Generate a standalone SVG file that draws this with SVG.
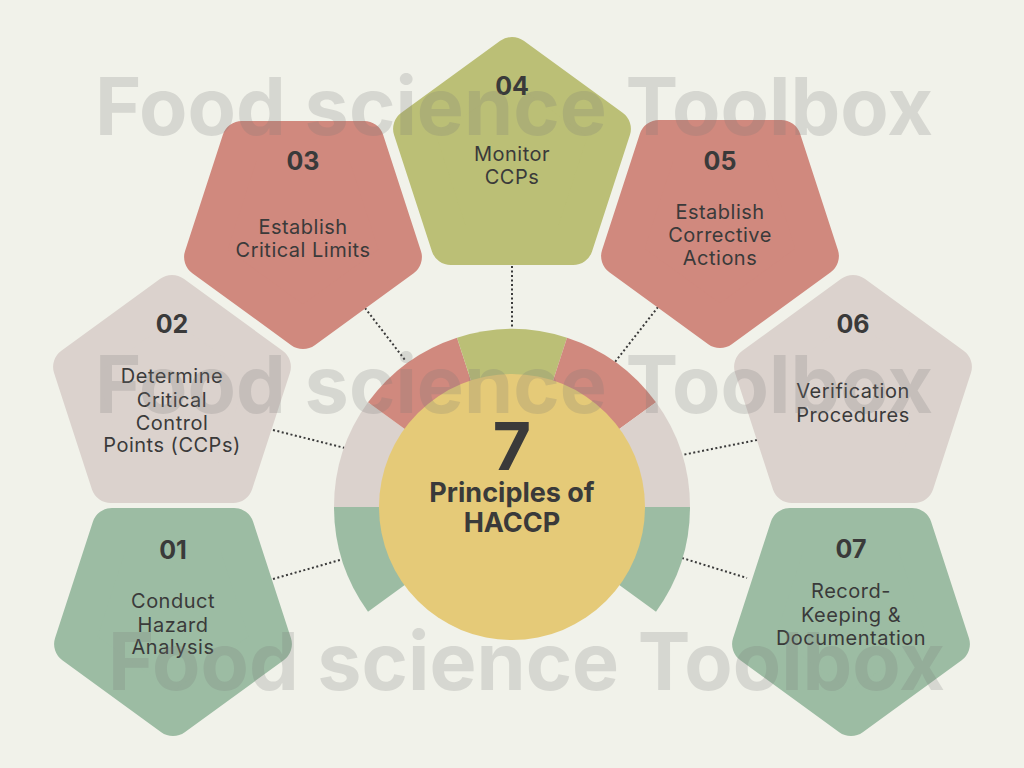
<svg xmlns="http://www.w3.org/2000/svg" xmlns:xlink="http://www.w3.org/1999/xlink" width="1024" height="768" viewBox="0 0 1024 768">
<style>
.bg{fill:#f1f2ea}
.pent{stroke-width:40;stroke-linejoin:round}
.green{fill:#9cbca3;stroke:#9cbca3}
.beige{fill:#dbd2cd;stroke:#dbd2cd}
.red{fill:#d0897e;stroke:#d0897e}
.olive{fill:#bbbf76;stroke:#bbbf76}
.sg{fill:#9cbca3}.sb{fill:#dbd2cd}.sr{fill:#d0897e}.so{fill:#bbbf76}
.num{font-family:Inter,'Liberation Sans',sans-serif;font-weight:700;font-size:25px;fill:#3a3a3a;text-anchor:middle}
.lbl{font-family:Inter,'Liberation Sans',sans-serif;font-size:20px;fill:#3a3a3a;text-anchor:middle;letter-spacing:0.5px}
.conn{stroke:#3a3a3a;stroke-width:2;stroke-dasharray:2 2.5;fill:none}
.wm{font-family:Inter,'Liberation Sans',sans-serif;font-weight:700;font-size:80px;fill:#777;opacity:0.21}
.title{font-family:Inter,'Liberation Sans',sans-serif;font-weight:700;fill:#3a3a3a;text-anchor:middle}
</style>
<defs>
<polygon id="pDown" points="0,104 98.9,32.1 61.1,-84.1 -61.1,-84.1 -98.9,32.1"/>
<polygon id="pUp" points="0,-104 98.9,-32.1 61.1,84.1 -61.1,84.1 -98.9,-32.1"/>
</defs>
<rect class="bg" x="0" y="0" width="1024" height="768"/>
<g id="connectors">
<line class="conn" x1="273" y1="579" x2="340" y2="560"/>
<line class="conn" x1="273" y1="430" x2="345" y2="448"/>
<line class="conn" x1="365" y1="308" x2="405" y2="360"/>
<line class="conn" x1="512" y1="266" x2="512" y2="328"/>
<line class="conn" x1="658" y1="307" x2="615" y2="362"/>
<line class="conn" x1="757" y1="440" x2="682" y2="455"/>
<line class="conn" x1="682" y1="558" x2="747" y2="578"/>
</g>
<g id="center">
<path class="sg" d="M512,507 L367.99,611.63 A178,178 0 0 1 334,507 Z"/>
<path class="sb" d="M512,507 L334,507 A178,178 0 0 1 367.99,402.37 Z"/>
<path class="sr" d="M512,507 L367.99,402.37 A178,178 0 0 1 457,337.7 Z"/>
<path class="so" d="M512,507 L457,337.7 A178,178 0 0 1 567,337.7 Z"/>
<path class="sr" d="M512,507 L567,337.7 A178,178 0 0 1 656,402.37 Z"/>
<path class="sb" d="M512,507 L656,402.37 A178,178 0 0 1 690,507 Z"/>
<path class="sg" d="M512,507 L690,507 A178,178 0 0 1 656,611.63 Z"/>
<circle cx="512" cy="507" r="133" fill="#e5ca78"/>
<text class="title" x="512" y="470" font-size="66">7</text>
<text class="title" x="512" y="502" font-size="27">Principles of</text>
<text class="title" x="512" y="532" font-size="27">HACCP</text>
</g>
<g id="node01" transform="translate(173,612)">
<use xlink:href="#pDown" class="pent green"/>
<text class="num" x="0" y="-53">01</text>
<text class="lbl" x="0" y="-4">Conduct</text>
<text class="lbl" x="0" y="20">Hazard</text>
<text class="lbl" x="0" y="42">Analysis</text>
</g>
<g id="node02" transform="translate(172,399)">
<use xlink:href="#pUp" class="pent beige"/>
<text class="num" x="0" y="-66">02</text>
<text class="lbl" x="0" y="-16">Determine</text>
<text class="lbl" x="0" y="8">Critical</text>
<text class="lbl" x="0" y="31">Control</text>
<text class="lbl" x="0" y="53">Points (CCPs)</text>
</g>
<g id="node03" transform="translate(303,225)">
<use xlink:href="#pDown" class="pent red"/>
<text class="num" x="0" y="-55">03</text>
<text class="lbl" x="0" y="9">Establish</text>
<text class="lbl" x="0" y="32">Critical Limits</text>
</g>
<g id="node04" transform="translate(512,161)">
<use xlink:href="#pUp" class="pent olive"/>
<text class="num" x="0" y="-66">04</text>
<text class="lbl" x="0" y="0">Monitor</text>
<text class="lbl" x="0" y="23">CCPs</text>
</g>
<g id="node05" transform="translate(720,224)">
<use xlink:href="#pDown" class="pent red"/>
<text class="num" x="0" y="-54">05</text>
<text class="lbl" x="0" y="-5">Establish</text>
<text class="lbl" x="0" y="18">Corrective</text>
<text class="lbl" x="0" y="41">Actions</text>
</g>
<g id="node06" transform="translate(853,399)">
<use xlink:href="#pUp" class="pent beige"/>
<text class="num" x="0" y="-66">06</text>
<text class="lbl" x="0" y="-1">Verification</text>
<text class="lbl" x="0" y="23">Procedures</text>
</g>
<g id="node07" transform="translate(851,612)">
<use xlink:href="#pDown" class="pent green"/>
<text class="num" x="0" y="-54">07</text>
<text class="lbl" x="0" y="-14">Record-</text>
<text class="lbl" x="0" y="10">Keeping &amp;</text>
<text class="lbl" x="0" y="33">Documentation</text>
</g>
<g id="watermark">
<text class="wm" x="95" y="135" textLength="838" lengthAdjust="spacingAndGlyphs">Food science Toolbox</text>
<text class="wm" x="95" y="413" textLength="838" lengthAdjust="spacingAndGlyphs">Food science Toolbox</text>
<text class="wm" x="108" y="690" textLength="837" lengthAdjust="spacingAndGlyphs">Food science Toolbox</text>
</g>
</svg>
